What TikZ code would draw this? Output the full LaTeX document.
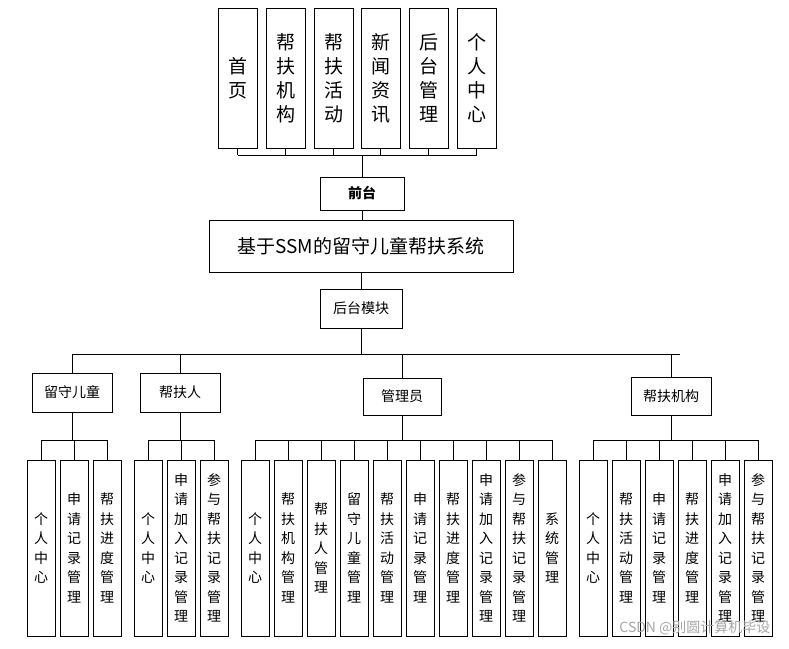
\documentclass[tikz,border=0pt]{standalone}
\usepackage{fontspec}
\setmainfont{Liberation Sans}
\newfontfamily\cjk{Noto Sans CJK SC}
\begin{document}
\begin{tikzpicture}[x=1pt,y=-1pt,
 bx/.style={draw,line width=0.8pt,inner sep=0pt,font=\cjk},
 ln/.style={line width=0.8pt}]
\useasboundingbox (0,0) rectangle (789,648);
% top boxes
\foreach \x/\t [count=\i] in {218/首\\页,266/帮\\扶\\机\\构,314/帮\\扶\\活\\动,361/新\\闻\\资\\讯,409/后\\台\\管\\理,457/个\\人\\中\\心}{
 \node[bx,minimum width=39pt,minimum height=140pt,font=\cjk\fontsize{19}{24}\selectfont,align=center] (t\i) at (\x+19.5,78) {\t};
 \draw[ln] (t\i.south) -- (\x+19.5,155);
}
\draw[ln] (t1.south |- 0,155) -- (t6.south |- 0,155);
\node[bx,minimum width=84pt,minimum height=33pt,font=\cjk\bfseries\fontsize{14}{16}\selectfont] (qt) at (362,193.5) {前台};
\draw[ln] (362,155) -- (qt.north);
\node[bx,minimum width=304pt,minimum height=52pt,font=\cjk\fontsize{19}{22}\selectfont] (main) at (361,246) {基于SSM的留守儿童帮扶系统};
\draw[ln] (qt.south) -- (qt.south |- main.north);
\node[bx,minimum width=82pt,minimum height=39pt,font=\cjk\fontsize{14}{16}\selectfont] (ht) at (361,308.5) {后台模块};
\draw[ln] (main.south -| ht.north) -- (ht.north);
\draw[ln] (ht.south) -- (361,354);
\draw[ln] (72,354) -- (680,354);
% second level
\node[bx,minimum width=80pt,minimum height=39pt,font=\cjk\fontsize{14}{16}\selectfont] (a) at (72,392.5) {留守儿童};
\node[bx,minimum width=80pt,minimum height=39pt,font=\cjk\fontsize{14}{16}\selectfont] (b) at (180,392.5) {帮扶人};
\node[bx,minimum width=78pt,minimum height=37pt,font=\cjk\fontsize{14}{16}\selectfont] (c) at (402,396.5) {管理员};
\node[bx,minimum width=80pt,minimum height=38pt,font=\cjk\fontsize{14}{16}\selectfont] (d) at (671,396) {帮扶机构};
\foreach \n/\x in {a/72,b/180,c/402,d/671}{\draw[ln] (\x,354) -- (\n.north); \draw[ln] (\n.south) -- (\x,440);}
% leaves
\newcommand{\leaf}[3]{\node[bx,minimum width=28pt,minimum height=176pt,font=\cjk\fontsize{14}{19.5}\selectfont,align=center] (#1) at (#2+14,548) {#3};
 \draw[ln] (#1.north) -- (#2+14,440);}
\leaf{a1}{27}{个\\人\\中\\心}\leaf{a2}{60}{申\\请\\记\\录\\管\\理}\leaf{a3}{93}{帮\\扶\\进\\度\\管\\理}
\draw[ln] (a1.north |- 0,440) -- (a3.north |- 0,440);
\leaf{b1}{134}{个\\人\\中\\心}\leaf{b2}{167}{申\\请\\加\\入\\记\\录\\管\\理}\leaf{b3}{200}{参\\与\\帮\\扶\\记\\录\\管\\理}
\draw[ln] (b1.north |- 0,440) -- (b3.north |- 0,440);
\leaf{c1}{241}{个\\人\\中\\心}\leaf{c2}{274}{帮\\扶\\机\\构\\管\\理}\leaf{c3}{307}{帮\\扶\\人\\管\\理}
\leaf{c4}{340}{留\\守\\儿\\童\\管\\理}\leaf{c5}{373}{帮\\扶\\活\\动\\管\\理}\leaf{c6}{406}{申\\请\\记\\录\\管\\理}
\leaf{c7}{439}{帮\\扶\\进\\度\\管\\理}\leaf{c8}{472}{申\\请\\加\\入\\记\\录\\管\\理}\leaf{c9}{505}{参\\与\\帮\\扶\\记\\录\\管\\理}
\leaf{c10}{538}{系\\统\\管\\理}
\draw[ln] (c1.north |- 0,440) -- (c10.north |- 0,440);
\leaf{d1}{579}{个\\人\\中\\心}\leaf{d2}{612}{帮\\扶\\活\\动\\管\\理}\leaf{d3}{645}{申\\请\\记\\录\\管\\理}
\leaf{d4}{678}{帮\\扶\\进\\度\\管\\理}\leaf{d5}{711}{申\\请\\加\\入\\记\\录\\管\\理}\leaf{d6}{744}{参\\与\\帮\\扶\\记\\录\\管\\理}
\draw[ln] (d1.north |- 0,440) -- (d6.north |- 0,440);
\node[font=\cjk\fontsize{14}{16}\selectfont,text=black!35,anchor=east] (wm) at (774,628) {CSDN @别圆计算机毕设};
\end{tikzpicture}
\end{document}
